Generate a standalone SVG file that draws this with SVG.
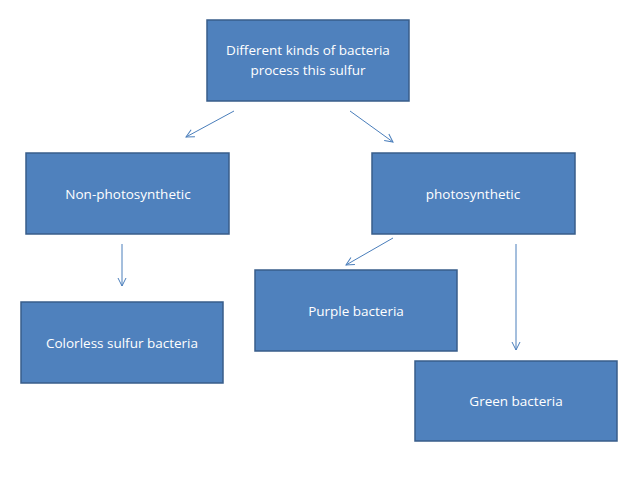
<svg xmlns="http://www.w3.org/2000/svg" width="638" height="478" viewBox="0 0 638 478">
<style>
.box{fill:#4F81BD;stroke:#385D8A;stroke-width:1.5}
.t{fill:#ffffff;font-family:"Open Sans","Liberation Sans",sans-serif;font-size:13.5px;text-anchor:middle;dominant-baseline:central}
.c{stroke:#4A7EBB;stroke-width:1;fill:none;marker-end:url(#ah)}
</style>
<defs>
<marker id="ah" viewBox="0 0 10 10" refX="9" refY="5" markerWidth="10" markerHeight="10" markerUnits="userSpaceOnUse" orient="auto">
<polyline points="1,1 9,5 1,9" fill="none" stroke="#4A7EBB" stroke-width="1"/>
</marker>
</defs>
<rect width="638" height="478" fill="#ffffff"/>
<g id="connectors">
<line class="c" x1="234" y1="111" x2="186" y2="137"/>
<line class="c" x1="350" y1="111" x2="393" y2="142"/>
<line class="c" x1="122" y1="244" x2="122" y2="286"/>
<line class="c" x1="393" y1="238" x2="346" y2="265"/>
<line class="c" x1="516" y1="244" x2="516" y2="350"/>
</g>
<g id="top">
<rect class="box" x="207" y="20" width="202" height="81"/>
<text class="t" x="308" y="50">Different kinds of bacteria</text>
<text class="t" x="308" y="70">process this sulfur</text>
</g>
<g id="nonphoto">
<rect class="box" x="26" y="153" width="203" height="81"/>
<text class="t" x="128" y="194">Non-photosynthetic</text>
</g>
<g id="photo">
<rect class="box" x="372" y="153" width="203" height="81"/>
<text class="t" x="473" y="194">photosynthetic</text>
</g>
<g id="colorless">
<rect class="box" x="21" y="302" width="202" height="81"/>
<text class="t" x="122" y="343">Colorless sulfur bacteria</text>
</g>
<g id="purple">
<rect class="box" x="255" y="270" width="202" height="81"/>
<text class="t" x="356" y="311">Purple bacteria</text>
</g>
<g id="green">
<rect class="box" x="415" y="361" width="202" height="80"/>
<text class="t" x="516" y="401">Green bacteria</text>
</g>
</svg>
